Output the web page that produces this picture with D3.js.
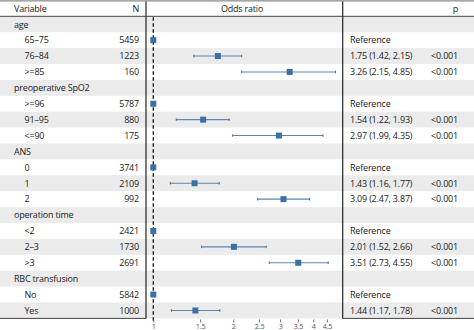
<!DOCTYPE html>
<html><head><meta charset="utf-8">
<script src="https://cdn.jsdelivr.net/npm/d3@7"></script>
<style>html,body{margin:0;padding:0;background:#fff;}svg{display:block;}</style>
</head><body>
<script>
const labels = ["age","65–75","76–84",">=85","preoperative SpO2",">=96","91–95","<=90","ANS","0","1","2","operation time","<2","2–3",">3","RBC transfusion","No","Yes"];
const isGroup = [1,0,0,0,1,0,0,0,1,0,0,0,1,0,0,0,1,0,0];
const nValues = [null,5459,1223,160,null,5787,880,175,null,3741,2109,992,null,2421,1730,2691,null,5842,1000];
const oddsRatio = [null,1,1.75,3.26,null,1,1.54,2.97,null,1,1.43,3.09,null,1,2.01,3.51,null,1,1.44];
const ciLow = [null,null,1.42,2.15,null,null,1.22,1.99,null,null,1.16,2.47,null,null,1.52,2.73,null,null,1.17];
const ciHigh = [null,null,2.15,4.85,null,null,1.93,4.35,null,null,1.77,3.87,null,null,2.66,4.55,null,null,1.78];
const estText = ["","Reference","1.75 (1.42, 2.15)","3.26 (2.15, 4.85)","","Reference","1.54 (1.22, 1.93)","2.97 (1.99, 4.35)","","Reference","1.43 (1.16, 1.77)","3.09 (2.47, 3.87)","","Reference","2.01 (1.52, 2.66)","3.51 (2.73, 4.55)","","Reference","1.44 (1.17, 1.78)"];
const pText = ["","","<0.001","<0.001","","","<0.001","<0.001","","","<0.001","<0.001","","","<0.001","<0.001","","","<0.001"];
const tickValues = [1,1.5,2,2.5,3,3.5,4,4.5];

const W = 474, H = 330;
const font = "'Open Sans', sans-serif";
const svg = d3.select("body").append("svg").attr("width", W).attr("height", H)
  .style("font-family", font);

const y0 = 16.3, rh = 15.9;
const y = d3.scaleBand().domain(d3.range(labels.length)).range([y0, y0 + rh*labels.length]).padding(0);
const x = d3.scaleLog().domain([1, 4.5]).range([153.3, 326.9]);
const plotL = 146, plotR = 342.7;
const txtColor = "#222";
const blue = "#3d6fa6";
const ls = "-0.2px";

svg.selectAll("rect.stripe").data(d3.range(labels.length).filter(i => i % 2 === 0)).enter()
  .append("rect").attr("x", 0).attr("width", W)
  .attr("y", i => y(i)).attr("height", y.bandwidth()).attr("fill", "#ebebeb");

const yBottom = y0 + rh*labels.length;
svg.append("line").attr("x1",0).attr("x2",W).attr("y1",0.8).attr("y2",0.8).attr("stroke","#8a8a8a").attr("stroke-width",1.3);
svg.append("line").attr("x1",0).attr("x2",W).attr("y1",y0).attr("y2",y0).attr("stroke","#444").attr("stroke-width",1);
svg.append("line").attr("x1",0).attr("x2",plotL).attr("y1",yBottom).attr("y2",yBottom).attr("stroke","#444").attr("stroke-width",1);
svg.append("line").attr("x1",plotR).attr("x2",W).attr("y1",yBottom).attr("y2",yBottom).attr("stroke","#444").attr("stroke-width",1);
[plotL, plotR].forEach(xx => svg.append("line").attr("x1",xx).attr("x2",xx).attr("y1",1.5).attr("y2",yBottom).attr("stroke","#222").attr("stroke-width",1.2));

const hy = 12.2;
const fs = 9;
const addText = (sel) => sel.attr("font-size", fs).attr("fill", txtColor).style("letter-spacing", ls);
addText(svg.append("text").attr("x",14).attr("y",hy).text("Variable"));
addText(svg.append("text").attr("x",139).attr("y",hy).attr("text-anchor","end").text("N"));
addText(svg.append("text").attr("x",242).attr("y",hy).attr("text-anchor","middle").text("Odds ratio"));
addText(svg.append("text").attr("x",458).attr("y",hy).attr("text-anchor","end").text("p"));

const rows = svg.selectAll("g.row").data(d3.range(labels.length)).enter().append("g")
  .attr("transform", i => `translate(0,${y(i) + y.bandwidth()/2})`);
addText(rows.append("text").attr("x", i => isGroup[i] ? 14 : 24.5).attr("y", 3.3).text(i => labels[i]));
addText(rows.append("text").attr("x", 139).attr("y", 3.3).attr("text-anchor","end").text(i => nValues[i] == null ? "" : nValues[i]));
addText(rows.append("text").attr("x", 350).attr("y", 3.3).text(i => estText[i]));
addText(rows.append("text").attr("x", 458).attr("y", 3.3).attr("text-anchor","end").text(i => pText[i]));

svg.append("line").attr("x1", x(1)).attr("x2", x(1)).attr("y1", y0+1).attr("y2", yBottom+3)
  .attr("stroke","#111").attr("stroke-width",1.3).attr("stroke-dasharray","3.5,2.5");

const ciIdx = d3.range(labels.length).filter(i => ciLow[i] != null);
const ci = svg.selectAll("g.ci").data(ciIdx).enter().append("g")
  .attr("transform", i => `translate(0,${y(i) + y.bandwidth()/2})`);
ci.append("line").attr("x1", i => x(ciLow[i])).attr("x2", i => x(ciHigh[i])).attr("y1",0).attr("y2",0)
  .attr("stroke","#5a86b5").attr("stroke-width",1.1);
ci.append("line").attr("x1", i => x(ciLow[i])).attr("x2", i => x(ciLow[i])).attr("y1",-1.3).attr("y2",1.3).attr("stroke","#666").attr("stroke-width",1);
ci.append("line").attr("x1", i => x(ciHigh[i])).attr("x2", i => x(ciHigh[i])).attr("y1",-1.3).attr("y2",1.3).attr("stroke","#666").attr("stroke-width",1);

const mIdx = d3.range(labels.length).filter(i => oddsRatio[i] != null);
svg.selectAll("rect.m").data(mIdx).enter().append("rect")
  .attr("x", i => x(oddsRatio[i]) - 3).attr("y", i => y(i) + y.bandwidth()/2 - 3)
  .attr("width", 6).attr("height", 6).attr("fill", blue);

const axis = d3.axisBottom(x).tickValues(tickValues).tickFormat(d3.format("")).tickSize(3).tickPadding(1.5);
const ag = svg.append("g").attr("transform", `translate(0,${yBottom+1})`).call(axis);
ag.select(".domain").remove();
ag.selectAll(".tick line").attr("stroke","#777");
ag.selectAll(".tick text").attr("fill","#555").attr("font-size",7.2).attr("font-family",font).style("letter-spacing","-0.2px");
</script>
</body></html>
